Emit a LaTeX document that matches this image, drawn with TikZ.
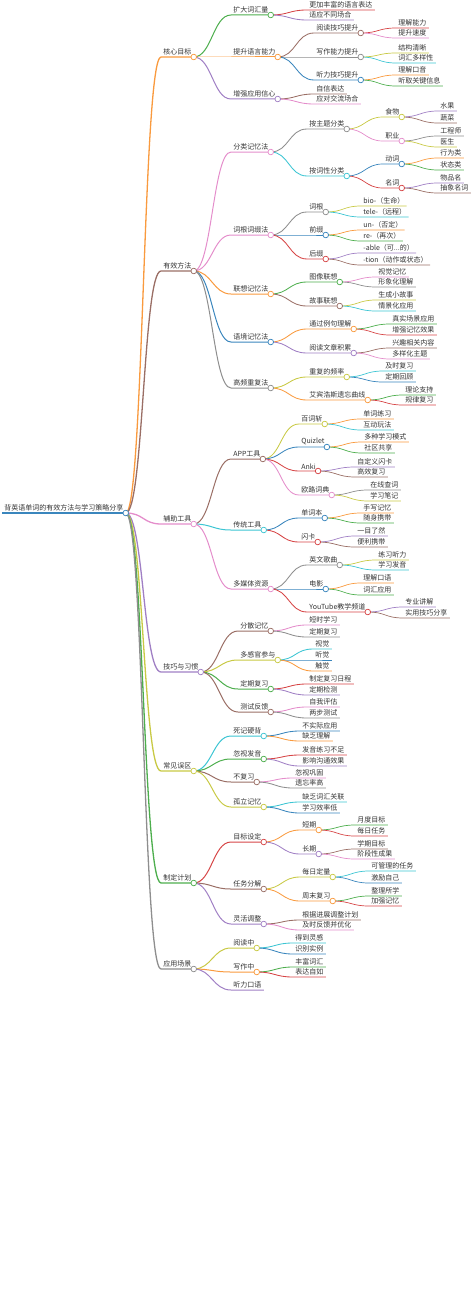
\documentclass[tikz,border=0pt]{standalone}
\usepackage{fontspec}
\newfontfamily\cjk{Noto Sans CJK SC}

\definecolor{mblue}{HTML}{3A86BD}
\definecolor{morange}{HTML}{F99A3E}
\definecolor{mgreen}{HTML}{4DAE4D}
\definecolor{mred}{HTML}{D64546}
\definecolor{mpurple}{HTML}{A07FC4}
\definecolor{mbrown}{HTML}{9A6E65}
\definecolor{mpink}{HTML}{E48DCB}
\definecolor{mgray}{HTML}{8E8E8E}
\definecolor{molive}{HTML}{C8C944}
\definecolor{mcyan}{HTML}{3CC5D3}
\definecolor{mtext}{HTML}{333333}

\tikzset{every picture/.style={line width=0.75pt}}
\tikzset{
  topic/.style={anchor=south west, inner xsep=2pt, inner ysep=1.5pt, font=\cjk\fontsize{7}{8}\selectfont, text=mtext},
  l1/.style={line width=1.3pt},
  l2/.style={line width=1pt},
  l3/.style={line width=0.85pt},
  l4/.style={line width=0.7pt},
  knob/.style={fill=white, line width=0.75pt},
}
\newcommand{\edge}[4]{\draw[#3,#4] (#1.south east) .. controls +(18,0) and +(-18,0) .. (#2.south west) -- (#2.south east);}

\begin{document}
\begin{tikzpicture}[x=1pt,y=1pt,yscale=-1,xscale=1]
	\useasboundingbox (0,0) rectangle (474,1303);

	% root and main branches
	\node[topic] (root) at (2,513) {背英语单词的有效方法与学习策略分享};
	\node[topic] (G) at (161,57) {核心目标};
	\node[topic] (M) at (161,271) {有效方法};
	\node[topic] (T) at (161,524) {辅助工具};
	\node[topic] (H) at (161,672) {技巧与习惯};
	\node[topic] (E) at (161,771) {常见误区};
	\node[topic] (P) at (161,883) {制定计划};
	\node[topic] (U) at (161,969) {应用场景};

	% 核心目标
	\node[topic] (G1) at (231,15) {扩大词汇量};
	\node[topic] (G11) at (307,10) {更加丰富的语言表达};
	\node[topic] (G12) at (307,20) {适应不同场合};
	\node[topic] (G2) at (231,57) {提升语言能力};
	\node[topic] (G21) at (314,33) {阅读技巧提升};
	\node[topic] (G211) at (396,28) {理解能力};
	\node[topic] (G212) at (396,38) {提升速度};
	\node[topic] (G22) at (314,57) {写作能力提升};
	\node[topic] (G221) at (396,53) {结构清晰};
	\node[topic] (G222) at (396,63) {词汇多样性};
	\node[topic] (G23) at (314,80) {听力技巧提升};
	\node[topic] (G231) at (396,75) {理解口音};
	\node[topic] (G232) at (396,86) {听取关键信息};
	\node[topic] (G3) at (231,99) {增强应用信心};
	\node[topic] (G31) at (314,94) {自信表达};
	\node[topic] (G32) at (314,104) {应对交流场合};

	% 有效方法
	\node[topic] (M1) at (231,152) {分类记忆法};
	\node[topic] (M11) at (307,129) {按主题分类};
	\node[topic] (M111) at (383,117) {食物};
	\node[topic] (M1111) at (438,111) {水果};
	\node[topic] (M1112) at (438,123) {蔬菜};
	\node[topic] (M112) at (383,141) {职业};
	\node[topic] (M1121) at (438,136) {工程师};
	\node[topic] (M1122) at (438,147) {医生};
	\node[topic] (M12) at (307,176) {按词性分类};
	\node[topic] (M121) at (383,164) {动词};
	\node[topic] (M1211) at (438,158) {行为类};
	\node[topic] (M1212) at (438,170) {状态类};
	\node[topic] (M122) at (383,188) {名词};
	\node[topic] (M1221) at (438,183) {物品名};
	\node[topic] (M1222) at (438,193) {抽象名词};
	\node[topic] (M2) at (231,235) {词根词缀法};
	\node[topic] (M21) at (307,212) {词根};
	\node[topic] (M211) at (361,206) {bio-（生命）};
	\node[topic] (M212) at (361,217) {tele-（远程）};
	\node[topic] (M22) at (307,235) {前缀};
	\node[topic] (M221) at (361,230) {un-（否定）};
	\node[topic] (M222) at (361,241) {re-（再次）};
	\node[topic] (M23) at (307,259) {后缀};
	\node[topic] (M231) at (361,253) {-able（可...的）};
	\node[topic] (M232) at (361,265) {-tion（动作或状态）};
	\node[topic] (M3) at (231,294) {联想记忆法};
	\node[topic] (M31) at (307,282) {图像联想};
	\node[topic] (M311) at (376,277) {视觉记忆};
	\node[topic] (M312) at (376,287) {形象化理解};
	\node[topic] (M32) at (307,306) {故事联想};
	\node[topic] (M321) at (376,300) {生成小故事};
	\node[topic] (M322) at (376,311) {情景化应用};
	\node[topic] (M4) at (231,342) {语境记忆法};
	\node[topic] (M41) at (307,329) {通过例句理解};
	\node[topic] (M411) at (390,324) {真实场景应用};
	\node[topic] (M412) at (390,335) {增强记忆效果};
	\node[topic] (M42) at (307,353) {阅读文章积累};
	\node[topic] (M421) at (390,348) {兴趣相关内容};
	\node[topic] (M422) at (390,359) {多样化主题};
	\node[topic] (M5) at (231,388) {高频重复法};
	\node[topic] (M51) at (307,377) {重复的频率};
	\node[topic] (M511) at (383,371) {及时复习};
	\node[topic] (M512) at (383,382) {定期回顾};
	\node[topic] (M52) at (307,400) {艾宾浩斯遗忘曲线};
	\node[topic] (M521) at (403,395) {理论支持};
	\node[topic] (M522) at (403,405) {规律复习};

	% 辅助工具
	\node[topic] (T1) at (231,459) {APP工具};
	\node[topic] (T11) at (299,424) {百词斩};
	\node[topic] (T111) at (361,419) {单词练习};
	\node[topic] (T112) at (361,430) {互动玩法};
	\node[topic] (T12) at (299,447) {Quizlet};
	\node[topic] (T121) at (362,442) {多种学习模式};
	\node[topic] (T122) at (362,453) {社区共享};
	\node[topic] (T13) at (299,471) {Anki};
	\node[topic] (T131) at (355,467) {自定义闪卡};
	\node[topic] (T132) at (355,477) {高效复习};
	\node[topic] (T14) at (299,495) {欧路词典};
	\node[topic] (T141) at (368,490) {在线查词};
	\node[topic] (T142) at (368,501) {学习笔记};
	\node[topic] (T2) at (231,530) {传统工具};
	\node[topic] (T21) at (299,518) {单词本};
	\node[topic] (T211) at (361,513) {手写记忆};
	\node[topic] (T212) at (361,523) {随身携带};
	\node[topic] (T22) at (299,542) {闪卡};
	\node[topic] (T221) at (355,536) {一目了然};
	\node[topic] (T222) at (355,547) {便利携带};
	\node[topic] (T3) at (231,589) {多媒体资源};
	\node[topic] (T31) at (307,565) {英文歌曲};
	\node[topic] (T311) at (376,560) {练习听力};
	\node[topic] (T312) at (376,570) {学习发音};
	\node[topic] (T32) at (307,589) {电影};
	\node[topic] (T321) at (361,583) {理解口语};
	\node[topic] (T322) at (361,595) {词汇应用};
	\node[topic] (T33) at (307,612) {YouTube教学频道};
	\node[topic] (T331) at (403,607) {专业讲解};
	\node[topic] (T332) at (403,618) {实用技巧分享};

	% 技巧与习惯
	\node[topic] (H1) at (238,631) {分散记忆};
	\node[topic] (H11) at (307,625) {短时学习};
	\node[topic] (H12) at (307,637) {定期复习};
	\node[topic] (H2) at (238,660) {多感官参与};
	\node[topic] (H21) at (313,649) {视觉};
	\node[topic] (H22) at (313,660) {听觉};
	\node[topic] (H23) at (313,671) {触觉};
	\node[topic] (H3) at (238,689) {定期复习};
	\node[topic] (H31) at (307,684) {制定复习日程};
	\node[topic] (H32) at (307,695) {定期检测};
	\node[topic] (H4) at (238,712) {测试反馈};
	\node[topic] (H41) at (307,707) {自我评估};
	\node[topic] (H42) at (307,718) {两步测试};

	% 常见误区
	\node[topic] (E1) at (231,736) {死记硬背};
	\node[topic] (E11) at (300,731) {不实际应用};
	\node[topic] (E12) at (300,741) {缺乏理解};
	\node[topic] (E2) at (231,759) {忽视发音};
	\node[topic] (E21) at (300,755) {发音练习不足};
	\node[topic] (E22) at (300,766) {影响沟通效果};
	\node[topic] (E3) at (231,782) {不复习};
	\node[topic] (E31) at (293,778) {忽视巩固};
	\node[topic] (E32) at (293,788) {遗忘率高};
	\node[topic] (E4) at (231,807) {孤立记忆};
	\node[topic] (E41) at (300,802) {缺乏词汇关联};
	\node[topic] (E42) at (300,813) {学习效率低};

	% 制定计划
	\node[topic] (P1) at (231,842) {目标设定};
	\node[topic] (P11) at (300,830) {短期};
	\node[topic] (P111) at (355,825) {月度目标};
	\node[topic] (P112) at (355,836) {每日任务};
	\node[topic] (P12) at (300,854) {长期};
	\node[topic] (P121) at (355,849) {学期目标};
	\node[topic] (P122) at (355,859) {阶段性成果};
	\node[topic] (P2) at (231,889) {任务分解};
	\node[topic] (P21) at (300,877) {每日定量};
	\node[topic] (P211) at (369,871) {可管理的任务};
	\node[topic] (P212) at (369,883) {激励自己};
	\node[topic] (P22) at (300,901) {周末复习};
	\node[topic] (P221) at (369,896) {整理所学};
	\node[topic] (P222) at (369,906) {加强记忆};
	\node[topic] (P3) at (231,924) {灵活调整};
	\node[topic] (P31) at (300,920) {根据进展调整计划};
	\node[topic] (P32) at (300,930) {及时反馈并优化};

	% 应用场景
	\node[topic] (U1) at (231,948) {阅读中};
	\node[topic] (U11) at (293,943) {得到灵感};
	\node[topic] (U12) at (293,954) {识别实例};
	\node[topic] (U2) at (231,972) {写作中};
	\node[topic] (U21) at (293,967) {丰富词汇};
	\node[topic] (U22) at (293,977) {表达自如};
	\node[topic] (U3) at (231,990) {听力口语};

	% links
	\draw[mblue, line width=2pt] (root.south west) -- (root.south east);
	\edge{root}{G}{morange}{l1}
	\edge{root}{M}{mbrown}{l1}
	\edge{root}{T}{mpink}{l1}
	\edge{root}{H}{mpurple}{l1}
	\edge{root}{E}{molive}{l1}
	\edge{root}{P}{mgreen}{l1}
	\edge{root}{U}{mgray}{l1}

	\edge{G}{G1}{mgreen}{l2}
	\edge{G1}{G11}{mred}{l3}
	\edge{G1}{G12}{mpurple}{l3}
	\edge{G}{G2}{morange}{l2}
	\edge{G2}{G21}{mbrown}{l3}
	\edge{G21}{G211}{mred}{l4}
	\edge{G21}{G212}{mpink}{l4}
	\edge{G2}{G22}{mgray}{l3}
	\edge{G22}{G221}{molive}{l4}
	\edge{G22}{G222}{mcyan}{l4}
	\edge{G2}{G23}{mblue}{l3}
	\edge{G23}{G231}{morange}{l4}
	\edge{G23}{G232}{mgreen}{l4}
	\edge{G}{G3}{mpurple}{l2}
	\edge{G3}{G31}{mbrown}{l3}
	\edge{G3}{G32}{mpink}{l3}

	\edge{M}{M1}{mpink}{l2}
	\edge{M1}{M11}{mgray}{l3}
	\edge{M11}{M111}{molive}{l4}
	\edge{M111}{M1111}{mpurple}{l4}
	\edge{M111}{M1112}{mbrown}{l4}
	\edge{M11}{M112}{mpink}{l4}
	\edge{M112}{M1121}{mgray}{l4}
	\edge{M112}{M1122}{molive}{l4}
	\edge{M1}{M12}{mcyan}{l3}
	\edge{M12}{M121}{mblue}{l4}
	\edge{M121}{M1211}{morange}{l4}
	\edge{M121}{M1212}{mgreen}{l4}
	\edge{M12}{M122}{mred}{l4}
	\edge{M122}{M1221}{mpurple}{l4}
	\edge{M122}{M1222}{mbrown}{l4}
	\edge{M}{M2}{mpink}{l2}
	\edge{M2}{M21}{mgray}{l3}
	\edge{M21}{M211}{molive}{l4}
	\edge{M21}{M212}{mcyan}{l4}
	\edge{M2}{M22}{mblue}{l3}
	\edge{M22}{M221}{morange}{l4}
	\edge{M22}{M222}{mgreen}{l4}
	\edge{M2}{M23}{mred}{l3}
	\edge{M23}{M231}{mpurple}{l4}
	\edge{M23}{M232}{mbrown}{l4}
	\edge{M}{M3}{morange}{l2}
	\edge{M3}{M31}{mgreen}{l3}
	\edge{M31}{M311}{mpink}{l4}
	\edge{M31}{M312}{mgray}{l4}
	\edge{M3}{M32}{mbrown}{l3}
	\edge{M32}{M321}{molive}{l4}
	\edge{M32}{M322}{mcyan}{l4}
	\edge{M}{M4}{mblue}{l2}
	\edge{M4}{M41}{morange}{l3}
	\edge{M41}{M411}{mgreen}{l4}
	\edge{M41}{M412}{mred}{l4}
	\edge{M4}{M42}{mpurple}{l3}
	\edge{M42}{M421}{mbrown}{l4}
	\edge{M42}{M422}{mpink}{l4}
	\edge{M}{M5}{mgray}{l2}
	\edge{M5}{M51}{molive}{l3}
	\edge{M51}{M511}{mcyan}{l4}
	\edge{M51}{M512}{mblue}{l4}
	\edge{M5}{M52}{morange}{l3}
	\edge{M52}{M521}{mgreen}{l4}
	\edge{M52}{M522}{mred}{l4}

	\edge{T}{T1}{mbrown}{l2}
	\edge{T1}{T11}{molive}{l3}
	\edge{T11}{T111}{morange}{l4}
	\edge{T11}{T112}{mcyan}{l4}
	\edge{T1}{T12}{mblue}{l3}
	\edge{T12}{T121}{morange}{l4}
	\edge{T12}{T122}{mgreen}{l4}
	\edge{T1}{T13}{mred}{l3}
	\edge{T13}{T131}{mpurple}{l4}
	\edge{T13}{T132}{mbrown}{l4}
	\edge{T1}{T14}{mpink}{l3}
	\edge{T14}{T141}{mgray}{l4}
	\edge{T14}{T142}{molive}{l4}
	\edge{T}{T2}{mcyan}{l2}
	\edge{T2}{T21}{mblue}{l3}
	\edge{T21}{T211}{morange}{l4}
	\edge{T21}{T212}{mgreen}{l4}
	\edge{T2}{T22}{mred}{l3}
	\edge{T22}{T221}{mpurple}{l4}
	\edge{T22}{T222}{mbrown}{l4}
	\edge{T}{T3}{mpink}{l2}
	\edge{T3}{T31}{mgray}{l3}
	\edge{T31}{T311}{molive}{l4}
	\edge{T31}{T312}{mcyan}{l4}
	\edge{T3}{T32}{mblue}{l3}
	\edge{T32}{T321}{morange}{l4}
	\edge{T32}{T322}{mgreen}{l4}
	\edge{T3}{T33}{mred}{l3}
	\edge{T33}{T331}{mpurple}{l4}
	\edge{T33}{T332}{mbrown}{l4}

	\edge{H}{H1}{mbrown}{l2}
	\edge{H1}{H11}{mpink}{l3}
	\edge{H1}{H12}{mgray}{l3}
	\edge{H}{H2}{molive}{l2}
	\edge{H2}{H21}{mcyan}{l3}
	\edge{H2}{H22}{mblue}{l3}
	\edge{H2}{H23}{morange}{l3}
	\edge{H}{H3}{mgreen}{l2}
	\edge{H3}{H31}{mred}{l3}
	\edge{H3}{H32}{mpurple}{l3}
	\edge{H}{H4}{mbrown}{l2}
	\edge{H4}{H41}{mpink}{l3}
	\edge{H4}{H42}{mgray}{l3}

	\edge{E}{E1}{mcyan}{l2}
	\edge{E1}{E11}{mblue}{l3}
	\edge{E1}{E12}{morange}{l3}
	\edge{E}{E2}{mgreen}{l2}
	\edge{E2}{E21}{mred}{l3}
	\edge{E2}{E22}{mpurple}{l3}
	\edge{E}{E3}{mbrown}{l2}
	\edge{E3}{E31}{mpink}{l3}
	\edge{E3}{E32}{mgray}{l3}
	\edge{E}{E4}{molive}{l2}
	\edge{E4}{E41}{mcyan}{l3}
	\edge{E4}{E42}{mblue}{l3}

	\edge{P}{P1}{mred}{l2}
	\edge{P1}{P11}{morange}{l3}
	\edge{P11}{P111}{mgreen}{l4}
	\edge{P11}{P112}{mred}{l4}
	\edge{P1}{P12}{mpurple}{l3}
	\edge{P12}{P121}{mbrown}{l4}
	\edge{P12}{P122}{mpink}{l4}
	\edge{P}{P2}{mbrown}{l2}
	\edge{P2}{P21}{molive}{l3}
	\edge{P21}{P211}{mcyan}{l4}
	\edge{P21}{P212}{mblue}{l4}
	\edge{P2}{P22}{morange}{l3}
	\edge{P22}{P221}{mgreen}{l4}
	\edge{P22}{P222}{mred}{l4}
	\edge{P}{P3}{mpurple}{l2}
	\edge{P3}{P31}{mbrown}{l3}
	\edge{P3}{P32}{mpink}{l3}

	\edge{U}{U1}{molive}{l2}
	\edge{U1}{U11}{mcyan}{l3}
	\edge{U1}{U12}{mblue}{l3}
	\edge{U}{U2}{morange}{l2}
	\edge{U2}{U21}{mgreen}{l3}
	\edge{U2}{U22}{mred}{l3}
	\edge{U}{U3}{mpurple}{l2}

	% fold circles
	\foreach \n/\c in {root/mblue, G/morange, M/mbrown, T/mpink, H/mpurple, E/molive, P/mgreen, U/mgray,
		G1/mgreen, G2/morange, G21/mbrown, G22/mgray, G23/mblue, G3/mpurple,
		M1/mpink, M11/mgray, M111/molive, M112/mpink, M12/mcyan, M121/mblue, M122/mred,
		M2/mpink, M21/mgray, M22/mblue, M23/mred, M3/morange, M31/mgreen, M32/mbrown,
		M4/mblue, M41/morange, M42/mpurple, M5/mgray, M51/molive, M52/morange,
		T1/mbrown, T11/molive, T12/mblue, T13/mred, T14/mpink, T2/mcyan, T21/mblue, T22/mred,
		T3/mpink, T31/mgray, T32/mblue, T33/mred,
		H1/mbrown, H2/molive, H3/mgreen, H4/mbrown,
		E1/mcyan, E2/mgreen, E3/mbrown, E4/molive,
		P1/mred, P11/morange, P12/mpurple, P2/mbrown, P21/molive, P22/morange, P3/mpurple,
		U1/molive, U2/morange}
		\draw[\c, knob] (\n.south east) circle (2.8);
\end{tikzpicture}
\end{document}
